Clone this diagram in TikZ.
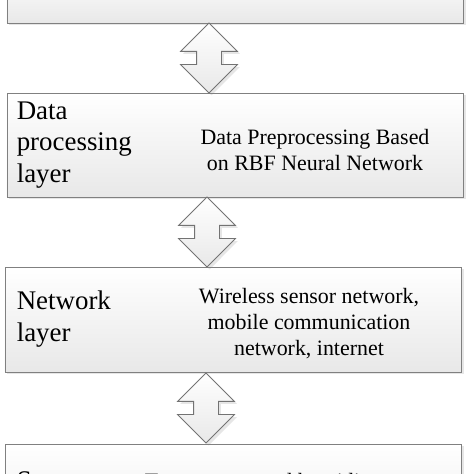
\documentclass[tikz,border=0pt]{standalone}
\usepackage{fontspec}
\setmainfont{Liberation Serif}
\usetikzlibrary{shapes.arrows,shadows,calc,positioning}
\tikzset{
	layer/.style={draw=black!50, line width=0.8pt, top color=white, bottom color=black!9, minimum width=456bp, inner sep=0pt, drop shadow={shadow xshift=2.5bp, shadow yshift=-2.5bp, opacity=0.2}},
	updown/.style={double arrow, shape border rotate=90, draw=black!55, line width=0.8pt, double arrow tip angle=90, double arrow head extend=16bp, minimum height=70bp, inner sep=12bp, top color=white, bottom color=black!9, drop shadow={shadow xshift=2.5bp, shadow yshift=-2.5bp, opacity=0.2}},
	bigtext/.style={font=\fontsize{27}{32}\selectfont, align=left, inner sep=0pt},
	smalltext/.style={font=\fontsize{22}{26.5}\selectfont, align=center, inner sep=0pt},
}
\begin{document}
\begin{tikzpicture}[x=1bp,y=1bp]
	\useasboundingbox (0,0) rectangle (474,474);
	\clip (0,0) rectangle (474,474);
	% layers
	\node (app) at (235,477.5) [layer, minimum height=53bp] {};
	\node (dp) at (235,329) [layer, minimum height=104bp] {};
	\node (net) at (233,154.5) [layer, minimum height=105bp] {};
	\node (sense) at (233,-23) [layer, minimum height=106bp] {};
	% texts
	\node (dpname) at ($(dp.west)+(10,0)$) [bigtext, anchor=west] {Data\\processing\\layer};
	\node (dpinfo) at ($(dp.center)+(80,-5)$) [smalltext] {Data Preprocessing Based\\on RBF Neural Network};
	\node (netname) at ($(net.west)+(12,0)$) [bigtext, anchor=west] {Network\\layer};
	\node (netinfo) at ($(net.center)+(76,-4)$) [smalltext] {Wireless sensor network,\\mobile communication\\network, internet};
	\node (sensename) at ($(sense.north west)+(12,-45.5)$) [bigtext, anchor=base west] {Sensor};
	\node (senseinfo) at ($(sense.north west)+(140,-45)$) [smalltext, anchor=base west] {Temperature and humidity};
	% arrows between layers
	\node (arr1) at ($(app.south)!.5!(dp.north)+(-26,0)$) [updown] {};
	\node (arr2) at ($(dp.south)!.5!(net.north)+(-27,0)$) [updown] {};
	\node (arr3) at ($(net.south)!.5!(sense.north)+(-27,0)$) [updown] {};
\end{tikzpicture}
\end{document}
